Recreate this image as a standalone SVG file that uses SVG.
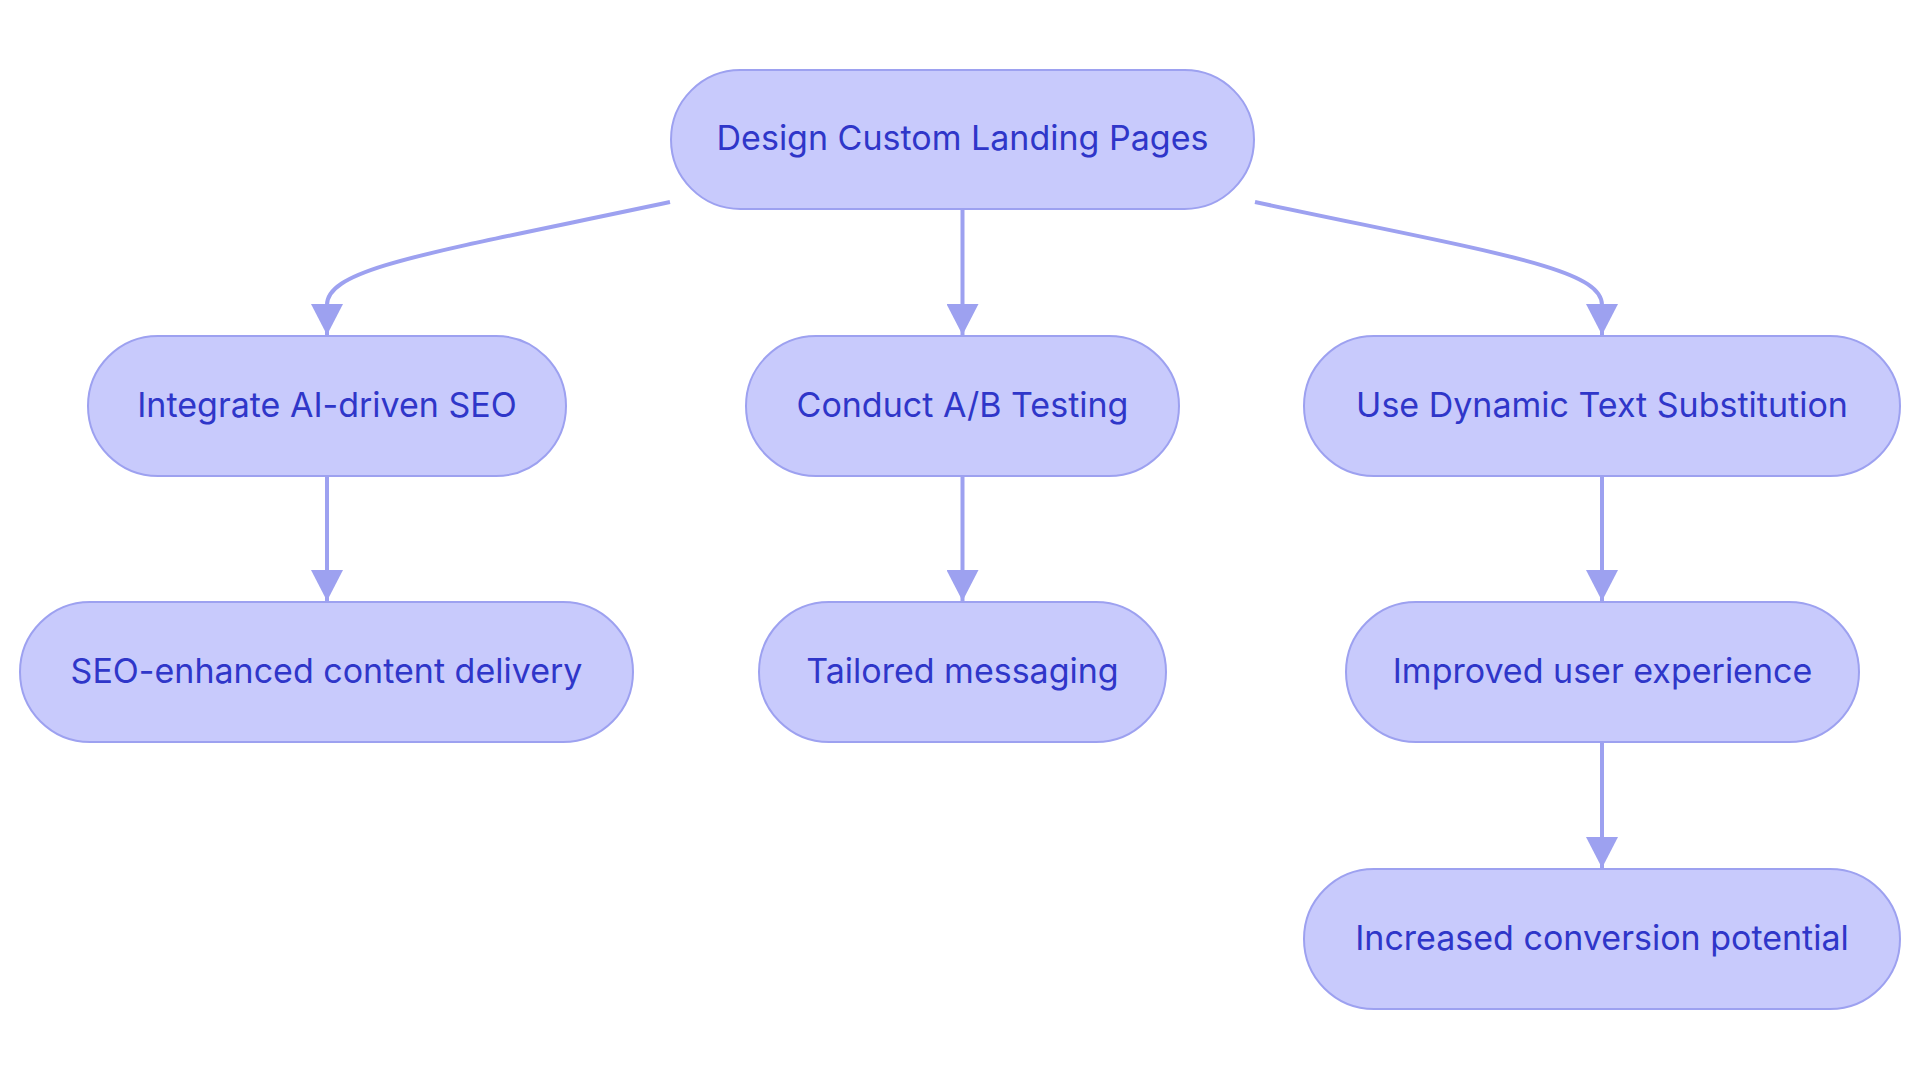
<svg xmlns="http://www.w3.org/2000/svg" width="1920" height="1083" viewBox="0 0 1920 1083">
<style>
.node rect{fill:#c8cafc;stroke:#9da1f0;stroke-width:2}
.node text{font-family:Inter,"Liberation Sans",sans-serif;font-size:34px;fill:#2f36c9;text-anchor:middle}
.edge{fill:none;stroke:#9da1f0;stroke-width:4}
</style>
<defs>
<marker id="arr" markerUnits="userSpaceOnUse" markerWidth="32" markerHeight="32" viewBox="0 0 32 32" refX="31" refY="16" orient="auto">
<path d="M0,0 L31,16 L0,32 Z" fill="#9da1f0"/>
</marker>
</defs>
<rect width="1920" height="1083" fill="#ffffff"/>
<g id="connectors">
<path class="edge" d="M670,202 C430,253 327,268 327,305 L327,335" marker-end="url(#arr)"/>
<path class="edge" d="M962.5,209 L962.5,335" marker-end="url(#arr)"/>
<path class="edge" d="M1255,202 C1495,253 1602,268 1602,305 L1602,335" marker-end="url(#arr)"/>
<path class="edge" d="M327,476 L327,601" marker-end="url(#arr)"/>
<path class="edge" d="M962.5,476 L962.5,601" marker-end="url(#arr)"/>
<path class="edge" d="M1602,476 L1602,601" marker-end="url(#arr)"/>
<path class="edge" d="M1602,742 L1602,868" marker-end="url(#arr)"/>
</g>
<g id="n1" class="node"><rect x="671" y="70" width="583" height="139" rx="69.5"/><text x="962.5" y="149.5">Design Custom Landing Pages</text></g>
<g id="n2" class="node"><rect x="88" y="336" width="478" height="140" rx="70"/><text x="327" y="416.5">Integrate AI-driven SEO</text></g>
<g id="n3" class="node"><rect x="746" y="336" width="433" height="140" rx="70"/><text x="962.5" y="416.5">Conduct A/B Testing</text></g>
<g id="n4" class="node"><rect x="1304" y="336" width="596" height="140" rx="70"/><text x="1602" y="416.5">Use Dynamic Text Substitution</text></g>
<g id="n5" class="node"><rect x="20" y="602" width="613" height="140" rx="70"/><text x="326.5" y="682.5">SEO-enhanced content delivery</text></g>
<g id="n6" class="node"><rect x="759" y="602" width="407" height="140" rx="70"/><text x="962.5" y="682.5">Tailored messaging</text></g>
<g id="n7" class="node"><rect x="1346" y="602" width="513" height="140" rx="70"/><text x="1602.5" y="682.5">Improved user experience</text></g>
<g id="n8" class="node"><rect x="1304" y="869" width="596" height="140" rx="70"/><text x="1602" y="949.5">Increased conversion potential</text></g>
</svg>
